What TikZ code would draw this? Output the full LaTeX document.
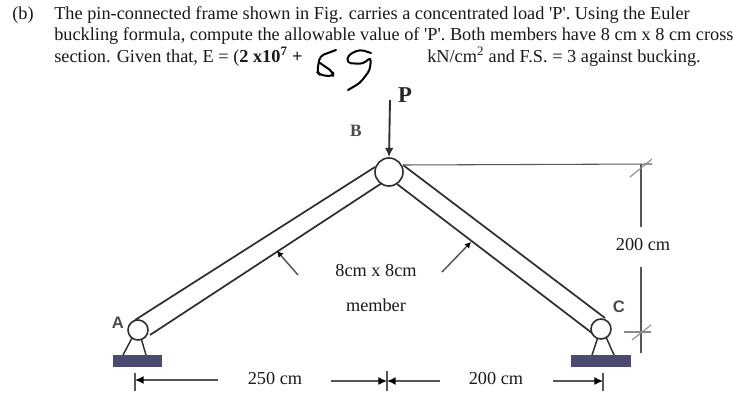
\documentclass[tikz,border=0pt]{standalone}
\usepackage{fontspec}
\setmainfont{Liberation Serif}
\setsansfont{Liberation Sans}
\usetikzlibrary{arrows.meta}
\definecolor{ink}{HTML}{2E2E36}
\definecolor{dimln}{HTML}{55555F}
\definecolor{tick}{HTML}{8A8A84}
\definecolor{base}{HTML}{4B4B72}
\newcommand{\sq}{\XeTeXglyph\XeTeXcharglyph"27 }
\tikzset{
  x=0.75pt,y=-0.75pt,
  para/.style={anchor=base west,inner sep=0pt,font=\fontsize{13.72}{16}\selectfont,text=black!90},
  lab/.style={anchor=center,inner sep=0pt,font=\fontsize{13.7}{16}\selectfont,text=black!90},
  sanslab/.style={anchor=center,inner sep=0pt,font=\sffamily\bfseries\fontsize{12.5}{14}\selectfont,text=black!70},
  pin/.style={circle,draw=ink,line width=1.2pt,fill=white,inner sep=0pt},
  memberln/.style={draw=ink,line width=1.3pt},
  legln/.style={draw=ink,line width=1.1pt},
  baseblk/.style={draw=none,fill=base,inner sep=0pt},
  dimline/.style={draw=dimln,line width=0.9pt},
  dimarrow/.style={draw=dimln,line width=1.1pt,-{Latex[length=6.5pt,width=6pt,color=black]}},
  leader/.style={draw=dimln,line width=1.1pt,-{Latex[length=4.5pt,width=5pt,color=black]}},
  tickln/.style={draw=tick,line width=0.8pt},
  hand/.style={draw=black,line width=1.5pt,line cap=round,line join=round,rounded corners=3pt}
}
\begin{document}
\begin{tikzpicture}
\useasboundingbox (0,0) rectangle (756,414);
% text
\node[para] (tb) at (12,19) {(b)};
\node[para] (t1) at (54,19) {The pin-connected frame shown in Fig. carries a concentrated load \sq P\sq. Using the Euler};
\node[para] (t2) at (54,40.5) {buckling formula, compute the allowable value of \sq P\sq. Both members have 8 cm x 8 cm cross};
\node[para] (t3) at (54,62) {section. Given that, E = (\textbf{2 x10\textsuperscript{7} +}};
\node[para] (t4) at (427,62) {kN/cm\textsuperscript{2} and F.S. = 3 against bucking.};
% handwriting
\draw[hand] (336,50) -- (320,56) -- (317,72) -- (320,75) -- (333,76.5) -- (333,72) -- (320,63);
\draw[hand] (371,53) -- (360,49.5) -- (348,55) -- (347,63) -- (363,64) -- (371,57) -- (370,70) -- (360,83) -- (348,90);
% coordinates
\coordinate (Aup) at (135,320);
\coordinate (Alo) at (150,335);
\coordinate (Bul) at (375,167);
\coordinate (Bll) at (382,183);
\coordinate (Bur) at (403,165);
\coordinate (Blr) at (397,184);
\coordinate (Cup) at (605,318);
\coordinate (Clo) at (592,333);
% members
\draw[memberln] (Aup) -- (Bul);
\draw[memberln] (Alo) -- (Bll);
\draw[memberln] (Bur) -- (Cup);
\draw[memberln] (Blr) -- (Clo);
% supports
\node[baseblk,minimum width=36.75pt,minimum height=9pt] (baseA) at (137.5,361) {};
\node[baseblk,minimum width=45pt,minimum height=9pt] (baseC) at (601,361) {};
\coordinate (al1) at (132,338); \coordinate (al2) at (123,355);
\coordinate (al3) at (141,338); \coordinate (al4) at (146,355);
\coordinate (cl1) at (598,337); \coordinate (cl2) at (592,355);
\coordinate (cl3) at (606,337); \coordinate (cl4) at (614,355);
\draw[legln] (al1) -- (al2);
\draw[legln] (al3) -- (al4);
\draw[legln] (cl1) -- (cl2);
\draw[legln] (cl3) -- (cl4);
% pins
\node[pin,minimum size=15pt] (A) at (138,330) {};
\node[pin,minimum size=21pt] (B) at (389,172) {};
\node[pin,minimum size=15pt] (C) at (601,329) {};
% labels
\node[sanslab] (la) at (118,323) {A};
\node[sanslab] (lc) at (619,307) {C};
\node[anchor=center,inner sep=0pt,font=\bfseries\fontsize{13}{15}\selectfont,text=black!70] (lb) at (356,131) {B};
\node[anchor=center,inner sep=0pt,font=\bfseries\fontsize{17}{19}\selectfont,text=black!85] (lp) at (405,95) {P};
% load
\coordinate (ptop) at (390,100);
\draw[draw=ink,line width=1.4pt,-{Latex[length=7pt,width=6.5pt]}] (ptop) -- (B.north);
% member text and leaders
\node[lab] (sz) at (376,271) {8cm x 8cm};
\node[lab] (mem) at (376,305) {member};
\coordinate (l1s) at (298,275); \coordinate (l1e) at (277,251);
\coordinate (l2s) at (442,272); \coordinate (l2e) at (471,242);
\draw[leader] (l1s) -- (l1e);
\draw[leader] (l2s) -- (l2e);
% horizontal dimensions
\node[lab] (d1) at (275,379) {250 cm};
\node[lab] (d2) at (496,379) {200 cm};
\coordinate (t1a) at (135,373); \coordinate (t1b) at (135,391);
\coordinate (t2a) at (387,371); \coordinate (t2b) at (387,391);
\coordinate (t3a) at (603,373); \coordinate (t3b) at (603,391);
\coordinate (t1m) at (135,380); \coordinate (t2m) at (387,381); \coordinate (t3m) at (603,381);
\coordinate (s1) at (218,380); \coordinate (s2) at (331,381);
\coordinate (s3) at (440,381); \coordinate (s4) at (553,381);
\draw[dimline] (t1a) -- (t1b);
\draw[dimline] (t2a) -- (t2b);
\draw[dimline] (t3a) -- (t3b);
\draw[dimarrow] (s1) -- (t1m);
\draw[dimarrow] (s2) -- (t2m);
\draw[dimarrow] (s3) -- (t2m);
\draw[dimarrow] (s4) -- (t3m);
% vertical dimension
\node[lab] (d3) at (643,245) {200 cm};
\coordinate (v1) at (641,164); \coordinate (v2) at (641,227);
\coordinate (v3) at (641,267); \coordinate (v4) at (641,353);
\coordinate (h1) at (652,164);
\draw[draw=dimln,line width=0.8pt] (Bur) -- (h1);
\draw[dimline] (v1) -- (v2);
\draw[dimline] (v3) -- (v4);
\coordinate (s1a) at (630,177); \coordinate (s1b) at (652,159);
\coordinate (s2a) at (632,340); \coordinate (s2b) at (651,325);
\coordinate (h2a) at (624,332); \coordinate (h2b) at (651,332);
\draw[tickln] (s1a) -- (s1b);
\draw[tickln] (s2a) -- (s2b);
\draw[tickln] (h2a) -- (h2b);
\end{tikzpicture}
\end{document}
